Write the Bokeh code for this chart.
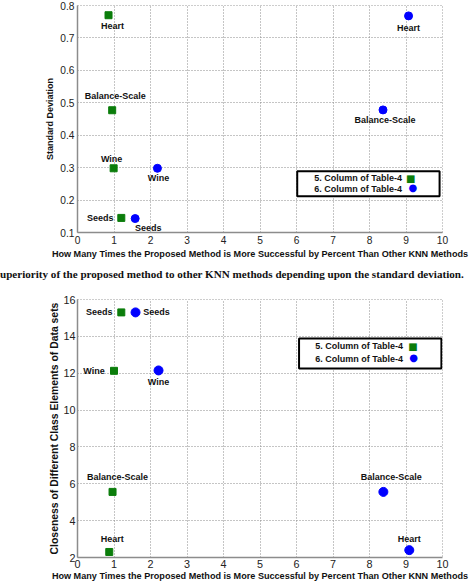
from bokeh.plotting import figure
from bokeh.models import (ColumnDataSource, LabelSet, Label, BoxAnnotation,
                          FixedTicker, Range1d, Div)
from bokeh.layouts import column
from bokeh.core.properties import value
from bokeh.embed import file_html
from bokeh.resources import INLINE

# ---------------- data ----------------
datasets = ["Heart", "Balance-Scale", "Wine", "Seeds"]

# Chart 1: standard deviation
sd_col5_x = [0.85, 0.95, 0.99, 1.20]
sd_col5_y = [0.770, 0.477, 0.298, 0.145]
sd_col6_x = [9.07, 8.37, 2.19, 1.58]
sd_col6_y = [0.768, 0.478, 0.298, 0.143]

# Chart 2: closeness of different class elements
cl_col5_x = [0.87, 0.96, 1.00, 1.20]
cl_col5_y = [2.30, 5.56, 12.13, 15.30]
cl_col6_x = [9.09, 8.38, 2.22, 1.59]
cl_col6_y = [2.40, 5.56, 12.15, 15.30]

x_ticks = [0, 1, 2, 3, 4, 5, 6, 7, 8, 9, 10]
sd_ticks = [0.1, 0.2, 0.3, 0.4, 0.5, 0.6, 0.7, 0.8]
cl_ticks = [2, 4, 6, 8, 10, 12, 14, 16]

legend_labels = ["5. Column of Table-4", "6. Column of Table-4"]
x_label = "How Many Times the Proposed Method is More Successful by Percent Than Other KNN Methods"
sd_label = "Standard Deviation"
cl_label = "Closeness of Different Class Elements of Data sets"
caption = "uperiority of the proposed method to other KNN methods depending upon the standard deviation."

# ---------------- styling ----------------
GREEN = "#0b7d0b"
BLUE = "#0000ff"
SANS = "Liberation Sans"

# label offsets in pixels (Heart, Balance-Scale, Wine, Seeds)
sd_off5 = [(4, -11), (3, 14), (-2, 9), (-21, 0)]
sd_off6 = [(0, -12), (2, -10), (1, -10), (13, -9)]
cl_off5 = [(3, 13), (5, 15), (-20, 0), (-22, 0)]
cl_off6 = [(0, 11), (8, 15), (0, -12), (21, 0)]


def make_chart(xs5, ys5, xs6, ys6, off5, off6, y_rng, y_ticks, y_label,
               height, b_left, b_right, b_top, b_bottom, leg, sq_size, ci_size,
               lab_standoff, ax_standoff, tick_size, ylab_size):
    p = figure(width=474, height=height, x_range=Range1d(0, 10),
               y_range=Range1d(*y_rng), output_backend="svg",
               toolbar_location=None, min_border_left=b_left,
               min_border_right=b_right, min_border_top=b_top,
               min_border_bottom=b_bottom)
    p.background_fill_color = "white"
    p.border_fill_color = "white"
    p.outline_line_color = "#9a9a9a"
    p.outline_line_dash = "1 2"

    p.xaxis.ticker = FixedTicker(ticks=x_ticks)
    p.yaxis.ticker = FixedTicker(ticks=y_ticks)
    for ax in (p.xaxis, p.yaxis):
        ax.axis_line_color = "#8c8c8c"
        ax.axis_line_width = 1.5
        ax.major_tick_in = 0
        ax.major_tick_out = 0
        ax.minor_tick_line_color = None
        ax.major_label_text_font = SANS
        ax.major_label_text_font_size = tick_size
        ax.major_label_text_color = "#222222"
        ax.axis_label_text_font = SANS
        ax.axis_label_text_font_style = "bold"
        ax.axis_label_text_color = "#111111"
        ax.major_label_standoff = lab_standoff
        ax.axis_label_standoff = ax_standoff
    p.xaxis.axis_label_text_font_size = "9.1px"
    p.yaxis.axis_label_text_font_size = ylab_size
    p.xaxis.axis_label = x_label
    p.yaxis.axis_label = y_label

    p.grid.grid_line_color = "#8a8a8a"
    p.grid.grid_line_dash = "1 2"
    p.grid.grid_line_width = 1

    p.scatter(xs5, ys5, marker="square", size=sq_size, color=GREEN)
    p.scatter(xs6, ys6, marker="circle", size=ci_size, color=BLUE)

    for xs, ys, off in ((xs5, ys5, off5), (xs6, ys6, off6)):
        src = ColumnDataSource(dict(x=xs, y=ys, name=datasets,
                                    dx=[o[0] for o in off],
                                    dy=[o[1] for o in off]))
        p.add_layout(LabelSet(x="x", y="y", text="name", x_offset="dx",
                              y_offset="dy", source=src,
                              text_align="center", text_baseline="middle",
                              text_font=value(SANS), text_font_style="bold",
                              text_font_size="9px", text_color="#111111"))

    # legend (text on the left, marker on the right)
    (l, r, b, t), rows = leg
    p.add_layout(BoxAnnotation(left=l, right=r, bottom=b, top=t,
                               fill_color="white", fill_alpha=1,
                               line_color="black", line_width=2,
                               line_alpha=1))
    for (tx, ty, mx, sym, col, dy), lab in zip(rows, legend_labels):
        p.add_layout(Label(x=tx, y=ty, text=lab, text_align="right",
                           text_baseline="middle", text_font=SANS,
                           text_font_style="bold", text_font_size="9px",
                           text_color="#111111"))
        p.add_layout(Label(x=mx, y=ty, y_offset=dy, text=sym,
                           text_align="center", text_baseline="middle",
                           text_font="DejaVu Sans", text_font_size="10px",
                           text_color=col))
    return p


p1 = make_chart(sd_col5_x, sd_col5_y, sd_col6_x, sd_col6_y, sd_off5, sd_off6,
                (0.1, 0.8), sd_ticks, sd_label,
                height=262, b_left=77, b_right=28, b_top=5, b_bottom=30,
                leg=((6.02, 9.92, 0.212, 0.289),
                     [(8.89, 0.268, 9.13, "\u25a0", GREEN, 0),
                      (8.89, 0.234, 9.19, "\u25cf", BLUE, 1.5)]),
                sq_size=7, ci_size=8, lab_standoff=3, ax_standoff=2,
                tick_size="10.2px", ylab_size="9px")

cap = Div(text=caption, width=474, height=24, margin=0,
          styles={"font-family": "Liberation Serif", "font-weight": "bold",
                  "font-size": "11.1px", "white-space": "nowrap",
                  "overflow": "hidden", "text-align": "left",
                  "line-height": "24px", "color": "#111111"})

p2 = make_chart(cl_col5_x, cl_col5_y, cl_col6_x, cl_col6_y, cl_off5, cl_off6,
                (2, 16), cl_ticks, cl_label,
                height=298, b_left=73, b_right=32, b_top=13, b_bottom=27,
                leg=((6.07, 9.97, 12.26, 13.89),
                     [(8.92, 13.45, 9.19, "\u25a0", GREEN, 0),
                      (8.92, 12.75, 9.21, "\u25cf", BLUE, 1.5)]),
                sq_size=7, ci_size=9, lab_standoff=2, ax_standoff=0,
                tick_size="10.8px", ylab_size="10.4px")

layout = column(p1, cap, p2)
open("out.html", "w").write(file_html(layout, INLINE))
